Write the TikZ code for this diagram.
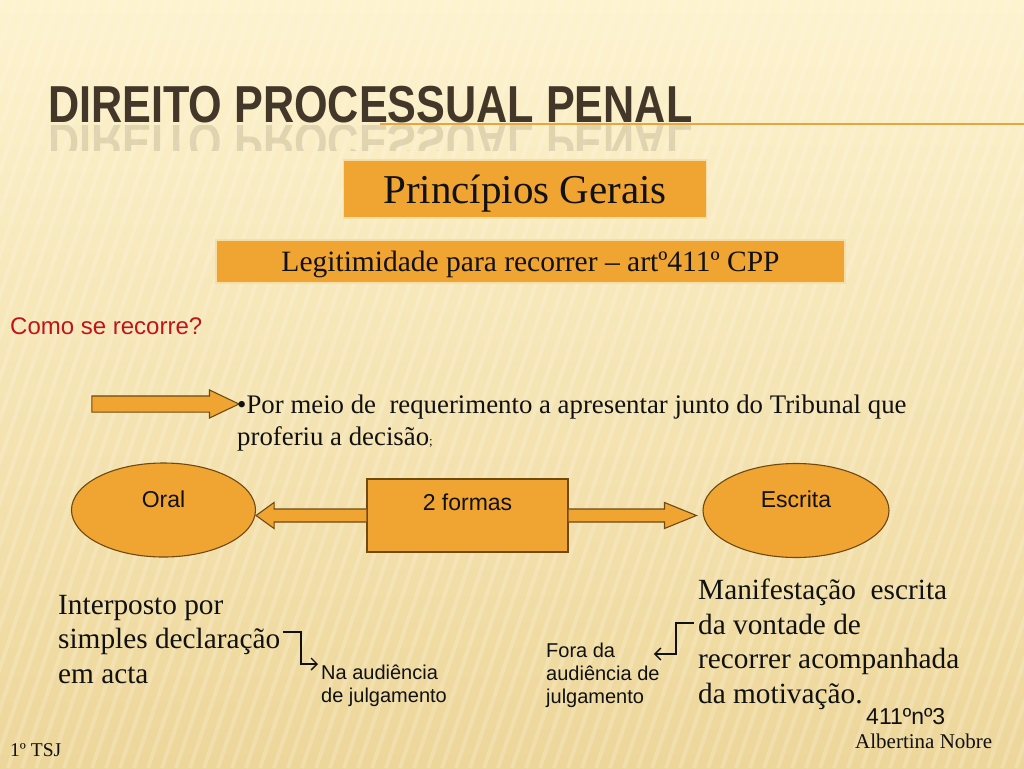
\documentclass[tikz,border=0pt]{standalone}
\usepackage{graphicx}
\usepackage{fontspec}
\setmainfont{Liberation Serif}
\setsansfont{Liberation Sans}
\newfontfamily\titlefamily[FakeStretch=0.83]{Liberation Sans Bold}
\usetikzlibrary{arrows.meta,calc,shapes.geometric,shapes.arrows}
\definecolor{bgtop}{HTML}{FDF3CF}
\definecolor{bgbot}{HTML}{EDD69A}
\definecolor{stripe}{HTML}{FFFBEA}
\definecolor{ink}{HTML}{111111}
\definecolor{titleink}{HTML}{43372A}
\definecolor{rule}{HTML}{E3A640}
\definecolor{orangefill}{HTML}{F0A432}
\definecolor{orangeline}{HTML}{6E4A12}
\definecolor{boxedge}{HTML}{F8DDA6}
\definecolor{askred}{HTML}{C0141C}
\newcommand{\fsz}[2]{\fontsize{#1}{#2}\selectfont}
\tikzset{
 every node/.append style={text=ink,inner sep=0pt},
 headbox/.style={fill=orangefill,draw=boxedge,line width=1.2pt,text depth=0pt},
 shapebox/.style={fill=orangefill,draw=orangeline,line width=1.1pt},
 oval/.style={shapebox,ellipse,minimum width=184pt,minimum height=94pt,font=\sffamily\fsz{23}{26},text height=16pt,text depth=22pt},
 fatarrow/.style={shapebox,line join=miter},
 serifbody/.style={font=\fsz{29.3}{34.5},align=left,anchor=north west},
 sanslabel/.style={font=\sffamily\fsz{20}{23},align=left,anchor=north west},
 elbow/.style={-{Straight Barb[length=6pt,width=12pt]},line width=1.4pt,draw=ink},
 headline/.style={font=\titlefamily\fsz{52}{52},text=titleink,anchor=base west},
}

\begin{document}
\begin{tikzpicture}[x=1pt,y=-1pt]

\useasboundingbox (0,0) rectangle (1024,768);
\shade[top color=bgtop,bottom color=bgbot] (0,0) rectangle (1024,768);
\begin{scope}
\clip (0,0) rectangle (1024,768);
\foreach \sx in {-300,-286,...,1300}
  \draw[stripe,opacity=.22,line width=4pt] (\sx,768) -- (\sx+260,0);
\end{scope}

% title with its reflection
\draw[rule,line width=1.5pt] (380,124) -- (1024,124);
\node[headline] (title) at (48,122) {DIREITO PROCESSUAL PENAL};
\begin{scope}
\clip (40,125) rectangle (720,150);
\node[headline,opacity=.14] (mirror) at (48,124) {\scalebox{1}[-1]{DIREITO PROCESSUAL PENAL}};
\end{scope}

\node[headbox,minimum width=363pt,minimum height=58pt,font=\fsz{41}{43}] (principios) at (525,189) {Princípios Gerais};
\node[headbox,minimum width=629pt,minimum height=43pt,font=\fsz{29.5}{31}] (legit) at (530.5,261.5) {Legitimidade para recorrer -- artº411º CPP};

\node[font=\sffamily\fsz{24}{26},text=askred,anchor=west] (ask) at (10,326) {Como se recorre?};

\node[shapebox,single arrow,minimum height=147pt,inner xsep=0pt,inner ysep=7.5pt,single arrow head extend=6pt,single arrow tip angle=51] (pointer) at (157,404) {};
\node[font=\fsz{26.8}{32},align=left,anchor=north west] (means) at (237,395) {•Por meio de\ \ requerimento a apresentar junto do Tribunal que\\proferiu a decisão{\fsz{13}{13};}};

% the two forms
\node[oval] (oral) at (163.5,510) {Oral};
\node[oval,minimum width=186pt] (escrita) at (796,510.5) {Escrita};
\node[shapebox,minimum width=201pt,minimum height=73pt,font=\sffamily\fsz{23}{26},text height=16pt,text depth=27pt] (forms) at (467.5,515.5) {2 formas};
\coordinate (oraltip) at (oral.east |- forms.center);
\coordinate (escritatip) at ($(escrita.west |- forms.center)+(-6,0)$);
\draw[fatarrow] ($(forms.west)+(0,-6.5)$) -- ($(oraltip)+(18,-6.5)$) -- ($(oraltip)+(18,-13)$) -- (oraltip) -- ($(oraltip)+(18,13)$) -- ($(oraltip)+(18,6.5)$) -- ($(forms.west)+(0,6.5)$);
\draw[fatarrow] ($(forms.east)+(0,-6.5)$) -- ($(escritatip)+(-32,-6.5)$) -- ($(escritatip)+(-32,-13)$) -- (escritatip) -- ($(escritatip)+(-32,13)$) -- ($(escritatip)+(-32,6.5)$) -- ($(forms.east)+(0,6.5)$);

% notes under each form
\node[serifbody] (oralnote) at (58,595) {Interposto por\\simples declaração\\em acta};
\coordinate (oralhook) at (283,632);
\node[sanslabel] (inhearing) at (321,665) {Na audiência\\de julgamento};
\draw[elbow] (oralhook) -- ++(18,0) |- ($(inhearing.north west)+(-3,-1)$);

\node[serifbody] (escritanote) at (698,579) {Manifestação\ \ escrita\\da vontade de\\recorrer acompanhada\\da motivação.};
\coordinate (escritahook) at (694,623);
\node[sanslabel] (outhearing) at (546,643) {Fora da\\audiência de\\julgamento};
\draw[elbow] (escritahook) -- ++(-18,0) |- ($(outhearing.north east)+(-6,11)$);

\node[font=\sffamily\fsz{23}{25},anchor=base west] (article) at (866,724) {411ºnº3};
\node[font=\fsz{21}{23},anchor=base west] (author) at (855,748) {Albertina Nobre};
\node[font=\fsz{19.5}{21},anchor=base west] (court) at (10,756) {1º TSJ};

\end{tikzpicture}
\end{document}
